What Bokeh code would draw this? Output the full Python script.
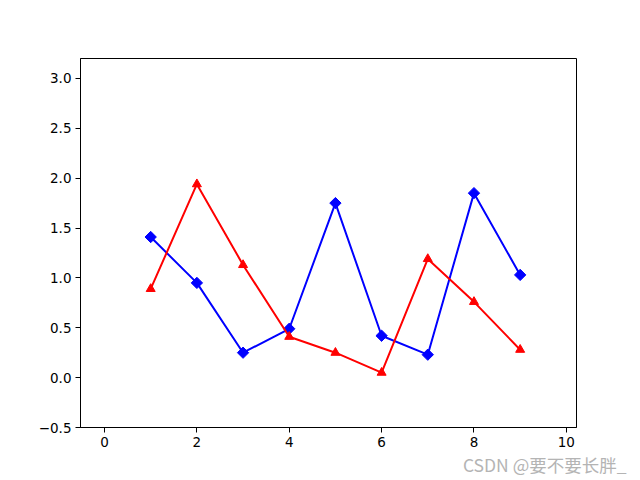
from bokeh.plotting import figure
from bokeh.models import Range1d, FixedTicker, Title
from bokeh.embed import file_html
from bokeh.resources import INLINE

x = [1, 2, 3, 4, 5, 6, 7, 8, 9]
blue_y = [1.41, 0.95, 0.25, 0.49, 1.75, 0.42, 0.23, 1.85, 1.03]
red_y = [0.89, 1.94, 1.13, 0.41, 0.25, 0.05, 1.19, 0.76, 0.28]
x_ticks = [0, 2, 4, 6, 8, 10]
y_ticks = [-0.5, 0.0, 0.5, 1.0, 1.5, 2.0, 2.5, 3.0]
y_tick_labels = {-0.5: "\u22120.5", 0.0: "0.0", 0.5: "0.5", 1.0: "1.0",
                 1.5: "1.5", 2.0: "2.0", 2.5: "2.5", 3.0: "3.0"}
watermark = "CSDN @要不要长胖_"

p = figure(width=632, height=476, output_backend="svg", toolbar_location=None,
           x_range=Range1d(-0.52, 10.22), y_range=Range1d(-0.5, 3.2),
           min_border_left=80, min_border_right=56, min_border_top=58,
           min_border_bottom=45)
p.grid.visible = False
p.outline_line_color = "black"
p.outline_line_width = 1
p.background_fill_color = "white"
p.border_fill_color = "white"

for ax in (p.xaxis, p.yaxis):
    ax.axis_line_color = "black"
    ax.major_tick_line_color = "black"
    ax.major_tick_out = 5
    ax.major_tick_in = 0
    ax.minor_tick_line_color = None
    ax.major_label_text_font = "DejaVu Sans"
    ax.major_label_text_font_size = "13.5px"
    ax.major_label_text_color = "black"
    ax.major_label_standoff = 4

p.xaxis.ticker = FixedTicker(ticks=x_ticks)
p.yaxis.ticker = FixedTicker(ticks=y_ticks)
p.yaxis.major_label_overrides = y_tick_labels

p.line(x, blue_y, line_color="#0000ff", line_width=2)
p.scatter(x, blue_y, marker="square", size=8, angle=0.785398,
          fill_color="#0000ff", line_color="#0000ff")
p.line(x, red_y, line_color="#ff0000", line_width=2)
p.scatter(x, red_y, marker="triangle", size=9,
          fill_color="#ff0000", line_color="#ff0000")

p.add_layout(Title(text=watermark, align="right", offset=-50,
                   text_font="Noto Sans CJK SC", text_font_size="17.5px",
                   text_font_style="normal", text_color="#b4b4b4",
                   standoff=0), "below")

open("out.html", "w").write(file_html(p, INLINE))
